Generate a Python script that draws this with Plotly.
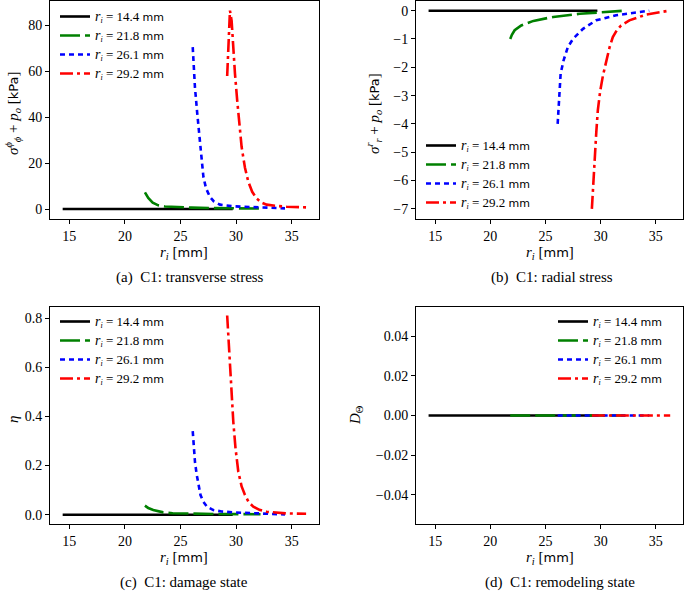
import plotly.graph_objects as go

# ---------------- data ----------------
series_names = ["14.4", "21.8", "26.1", "29.2"]
series_colors = ["#000000", "#008000", "#0000ff", "#ff0000"]
series_dash = ["solid", "20px,5px", "5px,4px", "13px,4px,3px,4px"]

# (a) transverse stress
a_black_x = [14.4, 29.7]
a_black_y = [0.0, 0.0]
a_green_x = [21.8, 22.1, 22.5, 23.0, 23.6, 24.5, 26.0, 28.0, 30.0, 32.2]
a_green_y = [7.3, 4.8, 2.8, 1.6, 1.1, 0.8, 0.6, 0.4, 0.3, 0.2]
a_blue_x = [26.1, 26.2, 26.3, 26.5, 26.67, 26.85, 27.06, 27.3, 27.65, 28.0, 28.55, 29.7, 31.4, 33.0, 34.4]
a_blue_y = [70.6, 62.0, 53.0, 42.0, 32.9, 22.0, 14.0, 9.0, 5.3, 3.3, 1.9, 1.2, 0.9, 0.5, 0.3]
a_red_x = [29.2, 29.3, 29.45, 29.6, 29.75, 29.9, 30.1, 30.3, 30.5, 30.8, 31.1, 31.45, 31.85, 32.3, 32.75, 33.5, 34.55, 36.3]
a_red_y = [58.0, 72.0, 86.5, 82.0, 69.0, 59.0, 47.4, 36.5, 27.0, 18.0, 11.9, 7.5, 4.6, 2.8, 1.9, 1.4, 1.0, 0.7]

# (b) radial stress
b_black_x = [14.4, 29.7]
b_black_y = [0.0, 0.0]
b_green_x = [21.8, 21.95, 22.2, 22.8, 23.9, 25.7, 28.1, 30.5, 32.2]
b_green_y = [-1.0, -0.85, -0.69, -0.52, -0.36, -0.22, -0.11, -0.05, 0.0]
b_blue_x = [26.1, 26.17, 26.28, 26.37, 26.64, 27.03, 27.5, 28.4, 29.6, 31.4, 33.5, 34.4]
b_blue_y = [-4.0, -3.4, -2.93, -2.22, -1.75, -1.28, -0.99, -0.64, -0.34, -0.16, -0.05, 0.0]
b_red_x = [29.2, 29.3, 29.44, 29.6, 29.74, 29.95, 30.2, 30.5, 30.8, 31.1, 31.45, 31.85, 32.6, 34.1, 36.2]
b_red_y = [-7.0, -6.2, -5.28, -4.3, -3.52, -2.85, -2.3, -1.75, -1.3, -0.93, -0.7, -0.52, -0.34, -0.14, 0.0]

# (c) damage state
c_black_x = [14.4, 29.7]
c_black_y = [0.0, 0.0]
c_green_x = [21.8, 22.1, 22.55, 23.0, 23.45, 24.3, 25.3, 28.0, 32.2]
c_green_y = [0.037, 0.027, 0.019, 0.013, 0.0095, 0.006, 0.005, 0.003, 0.002]
c_blue_x = [26.1, 26.2, 26.3, 26.45, 26.6, 26.8, 27.05, 27.4, 27.95, 28.7, 29.75, 32.1, 34.4]
c_blue_y = [0.34, 0.27, 0.216, 0.165, 0.12, 0.08, 0.053, 0.032, 0.019, 0.013, 0.0095, 0.004, 0.001]
c_red_x = [29.2, 29.3, 29.45, 29.6, 29.75, 29.95, 30.2, 30.5, 30.8, 31.15, 31.55, 32.1, 32.75, 34.55, 36.3]
c_red_y = [0.81, 0.72, 0.62, 0.5, 0.378, 0.27, 0.175, 0.115, 0.08, 0.05, 0.033, 0.02, 0.012, 0.005, 0.004]

# (d) remodeling state
d_black_x = [14.4, 29.7]
d_black_y = [0.0, 0.0]
d_green_x = [21.8, 32.2]
d_green_y = [0.0, 0.0]
d_blue_x = [26.1, 34.4]
d_blue_y = [0.0, 0.0]
d_red_x = [29.2, 36.3]
d_red_y = [0.0, 0.0]

x_ticks = [15, 20, 25, 30, 35]
a_yticks = [0, 20, 40, 60, 80]
b_yticks = [0, -1, -2, -3, -4, -5, -6, -7]
c_yticks = [0.0, 0.2, 0.4, 0.6, 0.8]
d_yticks = [-0.04, -0.02, 0.0, 0.02, 0.04]

captions = ["(a)  C1: transverse stress", "(b)  C1: radial stress",
            "(c)  C1: damage state", "(d)  C1: remodeling state"]

# ---------------- figure ----------------
W, H = 685, 592
SERIF = "Liberation Serif"
SANS = "DejaVu Sans"


def px_x(p):
    return p / W


def px_y(p):
    return 1 - p / H


def leg_name(v):
    return ("<span style='font-size:14px'><i>r</i></span><sub><i>i</i></sub>"
            "<span style='font-size:13px'> = " + v + " </span>"
            "<span style='font-family:DejaVu Sans;font-size:11px'>mm</span>")


fig = go.Figure()

panels = [
    ("x", "y", "legend", [(a_black_x, a_black_y), (a_green_x, a_green_y), (a_blue_x, a_blue_y), (a_red_x, a_red_y)]),
    ("x2", "y2", "legend2", [(b_black_x, b_black_y), (b_green_x, b_green_y), (b_blue_x, b_blue_y), (b_red_x, b_red_y)]),
    ("x3", "y3", "legend3", [(c_black_x, c_black_y), (c_green_x, c_green_y), (c_blue_x, c_blue_y), (c_red_x, c_red_y)]),
    ("x4", "y4", "legend4", [(d_black_x, d_black_y), (d_green_x, d_green_y), (d_blue_x, d_blue_y), (d_red_x, d_red_y)]),
]

for xa, ya, lg, data in panels:
    for i, (xs, ys) in enumerate(data):
        fig.add_trace(go.Scatter(
            x=xs, y=ys, mode="lines", xaxis=xa, yaxis=ya, legend=lg,
            name=leg_name(series_names[i]),
            line=dict(color=series_colors[i], width=2.6, dash=series_dash[i]),
            hoverinfo="skip"))

dom_x_left = [px_x(50), px_x(319)]
dom_x_right = [px_x(416), px_x(683)]
dom_y_top = [px_y(219), px_y(0.5)]
dom_y_bot = [px_y(524.3), px_y(306.7)]

axis_common = dict(showgrid=False, zeroline=False, showline=True, mirror=True,
                   linecolor="black", linewidth=1, ticks="outside", ticklen=4,
                   tickcolor="black", tickwidth=1,
                   tickfont=dict(family=SERIF, size=14, color="black"))

xr = [13.26, 37.46]
fig.update_layout(
    xaxis=dict(domain=dom_x_left, anchor="y", range=xr, tickvals=x_ticks, **axis_common),
    yaxis=dict(domain=dom_y_top, anchor="x", range=[-4.35, 90.9], tickvals=a_yticks, **axis_common),
    xaxis2=dict(domain=dom_x_right, anchor="y2", range=xr, tickvals=x_ticks, **axis_common),
    yaxis2=dict(domain=dom_y_top, anchor="x2", range=[-7.36, 0.36], tickvals=b_yticks, **axis_common),
    xaxis3=dict(domain=dom_x_left, anchor="y3", range=xr, tickvals=x_ticks, **axis_common),
    yaxis3=dict(domain=dom_y_bot, anchor="x3", range=[-0.039, 0.846], tickvals=c_yticks,
                tickformat=".1f", **axis_common),
    xaxis4=dict(domain=dom_x_right, anchor="y4", range=xr, tickvals=x_ticks, **axis_common),
    yaxis4=dict(domain=dom_y_bot, anchor="x4", range=[-0.055, 0.055], tickvals=d_yticks,
                tickformat=".2f", **axis_common),
)

leg_common = dict(bgcolor="rgba(0,0,0,0)", borderwidth=0,
                  font=dict(family=SERIF, size=11.5, color="black"),
                  tracegroupgap=0, itemwidth=30)
fig.update_layout(
    legend=dict(x=px_x(55), y=px_y(2), xanchor="left", yanchor="top", **leg_common),
    legend2=dict(x=px_x(421), y=px_y(131), xanchor="left", yanchor="top", **leg_common),
    legend3=dict(x=px_x(55), y=px_y(307), xanchor="left", yanchor="top", **leg_common),
    legend4=dict(x=px_x(553), y=px_y(307), xanchor="left", yanchor="top", **leg_common),
)

xtitle = "<i>r</i><sub><i>i</i></sub> [<span style='font-family:DejaVu Sans;font-size:13px'>mm</span>]"
kpa = " [<span style='font-family:DejaVu Sans;font-size:13px'>kPa</span>]"
annots = [
    (184, 253, xtitle, 0), (550, 253, xtitle, 0), (184, 558, xtitle, 0), (550, 558, xtitle, 0),
    (13, 113, "<i>σ</i><sup><i>ϕ</i></sup><sub><i>ϕ</i></sub> + <i>p</i><sub><i>o</i></sub>" + kpa, -90),
    (374, 113, "<i>σ</i><sup><i>r</i></sup><sub><i>r</i></sub> + <i>p</i><sub><i>o</i></sub>" + kpa, -90),
    (13, 420, "<i>η</i>", -90),
    (356, 415, "<i>D</i><sub>Θ</sub>", -90),
]
for (ax, ay, txt, ang) in annots:
    fig.add_annotation(x=px_x(ax), y=px_y(ay), xref="paper", yref="paper", text=txt,
                       showarrow=False, textangle=ang, xanchor="center", yanchor="middle",
                       font=dict(family=SERIF, size=15, color="black"))

cap_pos = [(190, 277), (552, 277), (184, 582), (560, 582)]
for (cx, cy), txt in zip(cap_pos, captions):
    fig.add_annotation(x=px_x(cx), y=px_y(cy), xref="paper", yref="paper", text=txt,
                       showarrow=False, xanchor="center", yanchor="middle",
                       font=dict(family=SERIF, size=15, color="black"))

fig.update_layout(width=W, height=H, margin=dict(l=0, r=0, t=0, b=0),
                  paper_bgcolor="white", plot_bgcolor="white", showlegend=True)

fig.write_html("out.html", config={"displayModeBar": False},
               post_script="document.body.style.margin='0';document.body.style.padding='0';"
                           "document.body.style.overflow='hidden';")
